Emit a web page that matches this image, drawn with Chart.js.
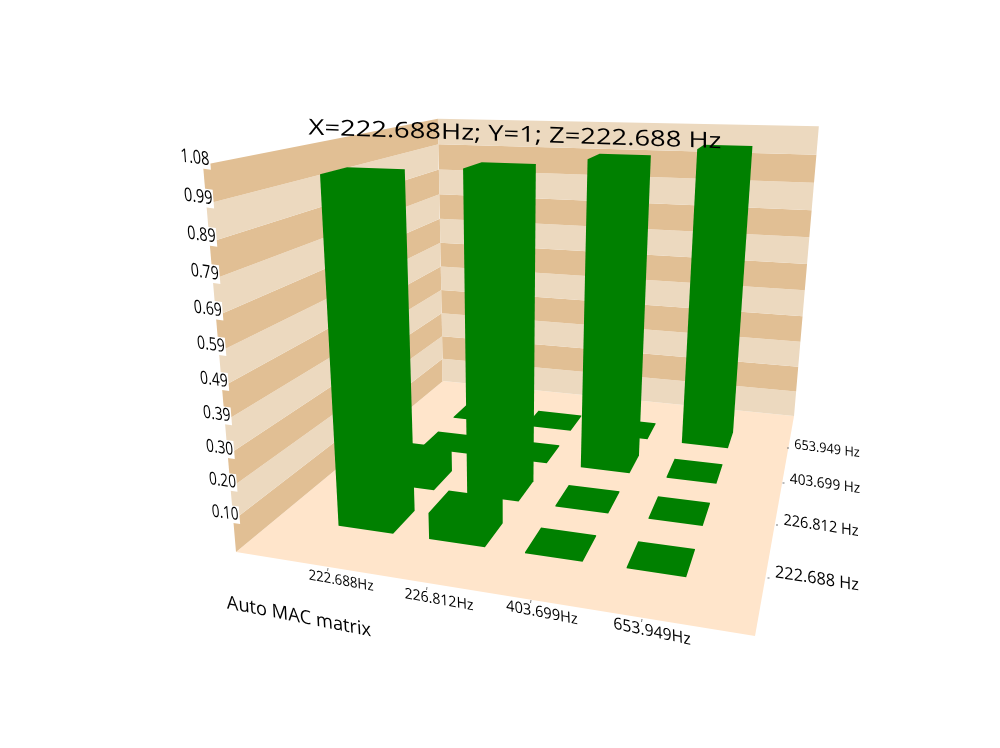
<!DOCTYPE html>
<html>
<head>
<meta charset="utf-8">
<style>html,body{margin:0;padding:0;background:#fff}canvas{display:block}</style>
<script src="https://cdn.jsdelivr.net/npm/chart.js@4/dist/chart.umd.min.js"></script>
</head>
<body>
<canvas id="c" width="1000" height="748" style="width:1000px;height:748px"></canvas>
<script>
const xCategories = ["222.688Hz", "226.812Hz", "403.699Hz", "653.949Hz"];
const depthCategories = ["222.688 Hz", "226.812 Hz", "403.699 Hz", "653.949 Hz"];
const zTickLabels = ["0.10","0.20","0.30","0.39","0.49","0.59","0.69","0.79","0.89","0.99","1.08"];
const row1 = [1, 0.08, 0.003, 0.003];
const row2 = [0.08, 0.988, 0.003, 0.003];
const row3 = [0.003, 0.003, 0.989, 0.003];
const row4 = [0.003, 0.003, 0.003, 0.995];
const rows = [row1, row2, row3, row4];
const chartTitle = "X=222.688Hz; Y=1; Z=222.688 Hz";
const axisName = "Auto MAC matrix";

// perspective camera fitted to the box: u along x, v into depth, w up
const cam = {a:410.3,b:426.1,p:-54.9,c:236,d:-7.6,e:17.4,q:-404.8,f:552,g:-0.144,h:0.4946,r:-0.108};
function project(u,v,w){
  const n = cam.g*u + cam.h*v + cam.r*w + 1;
  return {x:(cam.a*u+cam.b*v+cam.p*w+cam.c)/n, y:(cam.d*u+cam.e*v+cam.q*w+cam.f)/n};
}
const barTopScale = 1.043;               // data value that reaches the top of the walls
const cell = {u0:0.14, du:0.202, widths:[0.123,0.119,0.116,0.113], v0:0.148, dv:0.2, d:0.101};

function hull(pts){
  const s = pts.slice().sort((p,q)=>p.x-q.x||p.y-q.y);
  const cross=(o,a,b)=>(a.x-o.x)*(b.y-o.y)-(a.y-o.y)*(b.x-o.x);
  const half=list=>{const o=[];for(const p of list){while(o.length>1&&cross(o[o.length-2],o[o.length-1],p)<=0)o.pop();o.push(p);}o.pop();return o;};
  return half(s).concat(half(s.slice().reverse()));
}
const polys = [];
function addPoly(pts,color){ polys.push({pts:pts.concat([pts[0]]),color}); }

const FLOOR="#FFE5CB", DARK="#E1BF94", LIGHT="#ECD9BF", GREEN="#008000";
addPoly([project(0,0,0),project(1,0,0),project(1,1,0),project(0,1,0)],FLOOR);
const bands = zTickLabels.length;
for(let k=0;k<bands;k++){
  const w0=k/bands,w1=(k+1)/bands;
  addPoly([project(0,0,w0),project(0,1,w0),project(0,1,w1),project(0,0,w1)], k%2===0?DARK:LIGHT);
  addPoly([project(0,1,w0),project(1,1,w0),project(1,1,w1),project(0,1,w1)], k%2===0?LIGHT:DARK);
}
for(let j=rows.length-1;j>=0;j--){
  for(let i=0;i<rows[j].length;i++){
    const u0=cell.u0+cell.du*i,u1=u0+cell.widths[i],v0=cell.v0+cell.dv*j,v1=v0+cell.d,w=rows[j][i]/barTopScale;
    const corners=[];
    for(const u of [u0,u1])for(const v of [v0,v1])for(const z of [0,w])corners.push(project(u,v,z));
    addPoly(hull(corners),GREEN);
  }
}
const datasets = polys.map((p,i)=>({
  data:p.pts, showLine:true, fill:'shape', backgroundColor:p.color, borderColor:p.color,
  borderWidth:0, pointRadius:0, tension:0, order:-i, clip:false
}));

const FONT='"Open Sans"';
function label(ctx,text,cx,cy,deg,size,targetW,shear,bg){
  ctx.save();
  ctx.font=size+'px '+FONT;
  const m=ctx.measureText(text).width, sx=targetW/m, t=deg*Math.PI/180;
  ctx.transform(sx*Math.cos(t),sx*Math.sin(t),shear,1,cx,cy);
  ctx.textAlign='center'; ctx.textBaseline='middle';
  if(bg){ctx.fillStyle='#fff';ctx.fillRect(-m/2-1,-size*0.5,m+2,size*1.0);}
  ctx.fillStyle='#000';
  ctx.fillText(text,0,0);
  ctx.restore();
}
function tick(ctx,x0,y0,x1,y1){
  ctx.save();ctx.strokeStyle='#777';ctx.lineWidth=1;ctx.beginPath();ctx.moveTo(x0,y0);ctx.lineTo(x1,y1);ctx.stroke();ctx.restore();
}
const xLabelBoxes=[[341,581,10,14.5,66],[439,600,10,15,70],[542,613,11,15.5,73],[652,632,12,16.5,79]];
const depthLabelBoxes=[[817,579,9,17,85],[821,526,8.5,15.5,76],[825,484,8,14.5,71],[827,449,7.5,13.5,66]];
const textPlugin={id:'texts',afterDatasetsDraw(chart){
  const ctx=chart.ctx;
  zTickLabels.forEach((t,k)=>{
    const p=project(0,0,(k+1)/bands);
    label(ctx,t,p.x-8,p.y-7,8,19-(10-k)*0.15,29-(10-k)*0.2,0.08,true);
  });
  xCategories.forEach((t,i)=>{
    const b=xLabelBoxes[i];
    tick(ctx,b[0]-13+i*1,b[1]-13,b[0]-13.5+i*1,b[1]-10);
    label(ctx,t,b[0],b[1],b[2],b[3],b[4],0.03);
  });
  depthCategories.forEach((t,i)=>{
    const b=depthLabelBoxes[i];
    tick(ctx,b[0]-b[4]/2-7,b[1]-1,b[0]-b[4]/2-5,b[1]-1);
    label(ctx,t,b[0],b[1],b[2],b[3],b[4],0);
  });
  label(ctx,axisName,299,617,11,19,147,0.05);
  label(ctx,chartTitle,515,135,1.9,22,413,0);
}};
new Chart(document.getElementById('c'),{
  type:'scatter',
  data:{datasets},
  options:{
    responsive:false,animation:false,events:[],devicePixelRatio:1,
    layout:{padding:0},
    plugins:{legend:{display:false},tooltip:{enabled:false},title:{display:false}},
    scales:{
      x:{type:'linear',min:0,max:1000,display:false},
      y:{type:'linear',min:0,max:748,reverse:true,display:false}
    }
  },
  plugins:[textPlugin]
});
</script>
</body>
</html>
